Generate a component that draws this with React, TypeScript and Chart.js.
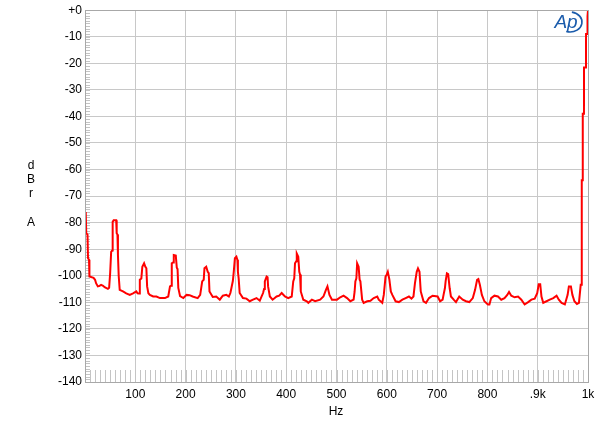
import React, { useEffect, useRef } from "react";
import { Chart, registerables } from "chart.js";

Chart.register(...registerables);

const freqHz: number[] = [
  0, 1.5, 2.5, 5, 6, 8, 8.8, 17, 20, 22, 25.5, 29, 32, 36, 39, 45.5, 48, 50, 52, 54,
  55, 57, 62, 63, 64.5, 65.5, 67, 69, 75.5, 82, 89, 95.5, 102, 104.5, 107.5, 109, 112, 114, 117.5, 120,
  122, 123.5, 126, 129, 135.5, 142, 149, 159, 165.5, 169, 171, 172.5, 175, 176.5, 180.5, 182.5, 184, 185.5, 189, 195.5,
  202, 208, 214, 224, 229, 233, 236, 237.5, 241, 244, 246, 247.5, 254, 261, 268, 274, 281, 286, 289, 291,
  294, 296, 298, 301, 303, 304, 305.5, 307.5, 314, 321, 327.5, 334, 341, 347.5, 354, 356, 357.5, 361, 363, 364,
  367.5, 373, 381, 386, 391, 397.5, 404, 411, 414, 416, 417.5, 420, 421, 424, 426, 427.5, 429, 434, 441, 444,
  451, 457.5, 467.5, 474, 479, 482, 486, 491, 501, 507.5, 514, 521, 527.5, 534, 536, 537.5, 539.5, 541, 544, 546,
  547.5, 551, 554, 561, 567.5, 574, 581, 584, 591, 594, 597.5, 600, 602, 605, 608, 611, 617.5, 624, 631, 637.5,
  644, 649, 653, 656, 659.5, 662, 665, 667.5, 673, 678, 684, 691, 701, 706, 711, 713, 715.5, 717, 719.5, 722,
  725, 727.5, 733, 737.5, 744, 751, 757.5, 764, 771, 775.5, 779.5, 782, 785, 789, 794, 801, 804, 807.5, 814, 821,
  827.5, 834, 839.5, 843, 847.5, 854, 861, 867.5, 874, 881, 887.5, 894, 899, 902, 905, 907.5, 911, 917.5, 924, 931,
  937.5, 942, 947.5, 954, 959.5, 962, 966, 969, 973, 978, 982, 985.5, 987.5, 987.6, 989.5, 989.6, 992, 992.1, 996, 996.1,
  998.5, 998.6, 999.5, 1000,
];

const levelDbr: number[] = [
  -76, -76.5, -84, -84.5, -93.4, -94, -100.3, -100.8, -101.5, -102.8, -104, -103.8, -103.4, -103.8, -104.3, -104.9, -104.5, -99, -91, -90.5,
  -79.7, -79.1, -79.1, -84, -84.5, -92.2, -100, -105.3, -105.9, -106.6, -107.2, -106.6, -105.9, -106.6, -106.7, -101.5, -101, -96.6, -95.3, -96.6,
  -97.2, -104, -106.6, -107.2, -107.8, -107.8, -108.4, -108.4, -107.8, -104, -103.8, -95.3, -95, -92.2, -92.4, -97, -97.5, -104.6, -107.7, -108.4,
  -107.2, -107.3, -107.8, -108.4, -107.2, -102.1, -101.5, -97.2, -96.6, -98.5, -99, -105.9, -108, -107.8, -109, -107.5, -107.2, -107.8, -106.5, -104.7,
  -101.9, -98, -93.4, -92.8, -94, -98.5, -101, -106.5, -108.4, -108.6, -109.6, -109, -108.4, -109.4, -106.5, -105, -102.1, -100.3, -100.6, -104,
  -107.8, -109, -107.8, -107.5, -106.5, -107.8, -108.4, -107.8, -102.1, -101, -95.3, -94.5, -91.6, -92.8, -98.5, -99.5, -105.9, -109, -109.6, -110.2,
  -109, -109.6, -109, -107.8, -105.3, -104, -107.2, -109, -109, -108.1, -107.5, -108.4, -109.6, -109, -106, -102.1, -101, -95.3, -96.6, -101.5,
  -102.1, -109, -110.2, -109.6, -109.4, -108.4, -107.8, -109, -110.2, -107.2, -100.3, -99.5, -98.5, -101.3, -105.9, -107.2, -109.6, -109.9, -109, -108.4,
  -107.8, -108.6, -107.8, -102.8, -98.5, -97.2, -98.5, -105.9, -109.6, -110.2, -108.4, -107.5, -107.8, -109.6, -109, -107, -104.7, -102, -99.1, -99.4,
  -104.7, -107.8, -109, -109.9, -107.8, -109, -109.6, -109.9, -108.4, -105.3, -101.5, -101.2, -103.4, -107.2, -109.6, -110.8, -110.8, -108.4, -107.5, -107.8,
  -109, -108.4, -107.2, -106.1, -107.5, -108.1, -107.8, -109, -110.8, -109.9, -109, -108.6, -106.6, -103.2, -103.2, -107.8, -110.2, -109.6, -109, -108.4,
  -107.5, -109, -110.2, -110.8, -107.2, -104, -104, -107.2, -109.6, -110.6, -110.2, -103.4, -103.4, -64, -64, -39, -39, -21.6, -21.6, -9,
  -9, -2.3, -2.3, 0,
];

const yTickLabel = (v: number) => (v === 0 ? "+0" : String(v));
const xTickLabels: Record<number, string> = {
  100: "100", 200: "200", 300: "300", 400: "400", 500: "500",
  600: "600", 700: "700", 800: "800", 900: ".9k", 1000: "1k",
};
const yAxisLetters = ["d", "B", "r", "", "A"];

const FONT = "'Liberation Sans', Arial, sans-serif";

const decorPlugin = {
  id: "decor",
  beforeDatasetsDraw(chart: any) {
    const { ctx, chartArea, scales } = chart;
    const xs = scales.x;
    const ys = scales.y;
    ctx.save();
    ctx.strokeStyle = "#c4c4c4";
    ctx.lineWidth = 1;
    ctx.beginPath();
    for (let v = -140; v <= 0; v += 1) {
      const y = Math.round(ys.getPixelForValue(v)) + 0.5;
      ctx.moveTo(chartArea.left, y);
      ctx.lineTo(chartArea.left + 5, y);
    }
    for (let f = 0; f <= 1000; f += 10) {
      const x = Math.round(xs.getPixelForValue(f)) + 0.5;
      ctx.moveTo(x, chartArea.bottom);
      ctx.lineTo(x, chartArea.bottom - 12);
    }
    ctx.stroke();
    ctx.restore();
  },
  afterDraw(chart: any) {
    const { ctx, chartArea } = chart;
    ctx.save();
    ctx.strokeStyle = "#a8a8a8";
    ctx.lineWidth = 1;
    ctx.strokeRect(
      Math.round(chartArea.left) + 0.5,
      Math.round(chartArea.top) + 0.5,
      Math.round(chartArea.right - chartArea.left),
      Math.round(chartArea.bottom - chartArea.top)
    );
    ctx.fillStyle = "#000";
    ctx.font = `12px ${FONT}`;
    ctx.textAlign = "center";
    ctx.textBaseline = "middle";
    const ys = [166, 180, 194, 208, 223];
    yAxisLetters.forEach((t, i) => {
      if (t) ctx.fillText(t, 31, ys[i]);
    });
    ctx.fillText("Hz", 336, 412);
    // AP logo
    ctx.fillStyle = "#1a5bab";
    ctx.strokeStyle = "#1a5bab";
    ctx.font = `italic 19px ${FONT}`;
    ctx.fillText("Ap", 566, 23);
    ctx.lineWidth = 1.6;
    ctx.beginPath();
    ctx.ellipse(570, 22, 12, 10, 0, -Math.PI * 0.45, Math.PI * 0.6);
    ctx.stroke();
    ctx.restore();
  },
};

export default function App() {
  const canvasRef = useRef<HTMLCanvasElement | null>(null);

  useEffect(() => {
    if (!canvasRef.current) return;
    const points = freqHz.map((f, i) => ({ x: f, y: levelDbr[i] }));
    const chart = new Chart(canvasRef.current, {
      type: "line",
      data: {
        datasets: [
          {
            data: points,
            borderColor: "#ff0000",
            borderWidth: 2,
            pointRadius: 0,
            tension: 0,
            fill: false,
          },
        ],
      },
      options: {
        animation: false,
        responsive: false,
        maintainAspectRatio: false,
        layout: { padding: { left: 0, top: 8, right: 12, bottom: 0 } },
        plugins: {
          legend: { display: false },
          tooltip: { enabled: false },
          title: { display: false },
        },
        scales: {
          x: {
            type: "linear",
            min: 0,
            max: 1000,
            afterFit: (s: any) => {
              s.height = 43;
            },
            ticks: {
              stepSize: 100,
              autoSkip: false,
              maxRotation: 0,
              padding: 5,
              color: "#000",
              font: { family: FONT, size: 12 },
              callback: (v: any) => xTickLabels[Number(v)] ?? "",
            },
            grid: { color: "#c8c8c8", drawTicks: false },
            border: { display: false },
          },
          y: {
            min: -140,
            max: 0,
            afterFit: (s: any) => {
              s.width = 85;
            },
            ticks: {
              stepSize: 10,
              autoSkip: false,
              padding: 3,
              color: "#000",
              font: { family: FONT, size: 12 },
              callback: (v: any) => yTickLabel(Number(v)),
            },
            grid: { color: "#c8c8c8", drawTicks: false },
            border: { display: false },
          },
        },
      },
      plugins: [decorPlugin],
    });
    return () => chart.destroy();
  }, []);

  return (
    <div style={{ position: "fixed", left: 0, top: 0, width: 600, height: 425, background: "#fff" }}>
      <canvas ref={canvasRef} width={600} height={425} style={{ width: 600, height: 425 }} />
    </div>
  );
}
